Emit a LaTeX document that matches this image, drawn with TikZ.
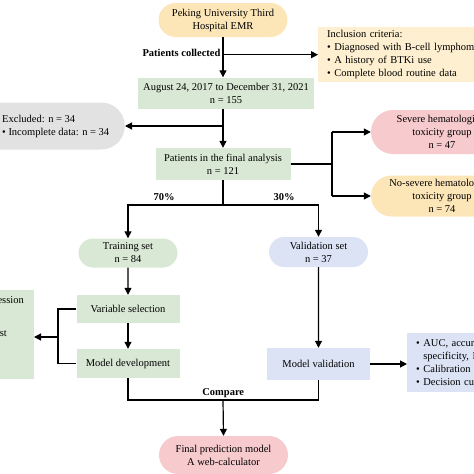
\documentclass[tikz,border=0pt]{standalone}
\usepackage{fontspec}
\setmainfont{Liberation Serif}
\usetikzlibrary{shapes.misc,arrows.meta}

\definecolor{pillyellow}{HTML}{FCE6B8}
\definecolor{boxyellow}{HTML}{FDEFCF}
\definecolor{boxgreen}{HTML}{D9E8D4}
\definecolor{boxpink}{HTML}{F7CACD}
\definecolor{boxgrey}{HTML}{E2E2E2}
\definecolor{boxblue}{HTML}{DBE3F5}

\tikzset{
  box/.style={rectangle, draw=none, align=center, inner sep=2pt, font=\fontsize{10.5}{13}\selectfont},
  pill/.style={box, rounded rectangle},
  lbl/.style={font=\fontsize{10.5}{12}\selectfont\bfseries, inner sep=2pt},
  line/.style={line width=1.2pt},
  arr/.style={line, -{Triangle[length=7pt,width=7pt]}}
}

\begin{document}
\begin{tikzpicture}[x=1pt,y=-1pt]
\useasboundingbox (0,0) rectangle (474,474);
\clip (0,0) rectangle (474,474);
%%% source and inclusion
\node[pill, fill=pillyellow, minimum width=133pt, minimum height=34pt] (emr) at (223,20) {Peking University Third\\Hospital EMR};
\node[box, fill=boxyellow, anchor=north west, align=left, text width=190pt, inner xsep=9pt, minimum height=55pt] (incl) at (318,27) {Inclusion criteria:\\• Diagnosed with B-cell lymphoma\\• A history of BTKi use\\• Complete blood routine data};
\node[box, fill=boxgreen, minimum width=176pt, minimum height=31pt] (aug) at (226,93) {August 24, 2017 to December 31, 2021\\n = 155};
%%% excluded patients
\node[pill, rounded rectangle west arc=none, fill=boxgrey, anchor=east, minimum width=190pt, minimum height=47pt] (excl) at (125,126) {};
\node[box, anchor=west, align=left] (excltxt) at (0,126) {Excluded: n = 34\\ • Incomplete data: n = 34};
\node[box, fill=boxgreen, minimum width=135pt, minimum height=32pt] (fin) at (223,164) {Patients in the final analysis\\n = 121};
%%% toxicity groups
\node[pill, fill=boxpink, minimum width=146pt, minimum height=44pt] (sev) at (442,132) {Severe hematological\\toxicity group\\n = 47};
\node[pill, fill=pillyellow, minimum width=146pt, minimum height=41pt] (nosev) at (442,196) {No-severe hematological\\toxicity group\\n = 74};
%%% training and validation
\node[pill, fill=boxgreen, minimum width=103pt, minimum height=29pt] (train) at (128,253) {Training set\\n = 84};
\node[pill, fill=boxblue, minimum width=103pt, minimum height=30pt] (valid) at (318.5,252) {Validation set\\n = 37};
\node[box, fill=boxgreen, minimum width=103pt, minimum height=28pt] (varsel) at (128,309) {Variable selection};
\node[box, fill=boxgreen, minimum width=103pt, minimum height=29pt] (moddev) at (128,363.5) {Model development};
\node[box, fill=boxgreen, anchor=east, minimum width=100pt, minimum height=89pt] (algo) at (34,334.5) {};
\node[box, anchor=east] (algotxt1) at (26,300) {ession};
\node[box, anchor=east] (algotxt2) at (9,334) {st};
\node[box, fill=boxblue, minimum width=103pt, minimum height=32pt] (modval) at (318.5,364) {Model validation};
\node[box, fill=boxblue, anchor=west, align=left, text width=150pt, inner xsep=9pt, minimum height=59pt] (metr) at (407,362.5) {• AUC, accuracy, sensitivity,\\ \phantom{• }specificity, PPV, NPV\\ • Calibration curve\\ • Decision curve};
\node[pill, fill=boxpink, minimum width=133pt, minimum height=38pt] (final) at (223.5,455) {Final prediction model\\A web-calculator};
%%% connectors
\coordinate (sp) at (332,164);
\coordinate (fork) at (223,205);
\coordinate (br) at (58,337);
\coordinate (mg) at (223,400);
\draw[arr] (emr.south) -- node[lbl, left, pos=0.4] {Patients collected} (emr.south |- aug.north);
\draw[arr] (emr.south |- incl.west) -- (incl.west);
\draw[arr] (emr.south |- aug.south) -- (emr.south |- fin.north);
\draw[arr] (emr.south |- excl.east) -- (excl.east);
\draw[line] (fin.east) -- (sp);
\draw[line] (sp |- sev.west) -- (sp |- nosev.west);
\draw[arr] (sp |- sev.west) -- (sev.west);
\draw[arr] (sp |- nosev.west) -- (nosev.west);
\draw[line] (fin.south) -- (fork);
\draw[arr] (fork) -| node[lbl, above, pos=0.31, yshift=2pt] {70\%} (train.north);
\draw[arr] (fork) -| node[lbl, above, pos=0.32, yshift=2pt] {30\%} (valid.north);
\draw[arr] (train) -- (varsel);
\draw[arr] (varsel) -- (moddev);
\draw[line] (varsel.west) -- (varsel.west -| br) -- (moddev.west -| br) -- (moddev.west);
\draw[arr] (br) -- (br -| algo.east);
\draw[arr] (valid) -- (modval);
\draw[arr] (modval.east) -- (modval.east -| metr.west);
\draw[line] (moddev.south) |- node[lbl, above, pos=0.75] {Compare} (modval.south |- mg) -- (modval.south);
\draw[arr] (mg) -- (final.north);
\end{tikzpicture}
\end{document}
